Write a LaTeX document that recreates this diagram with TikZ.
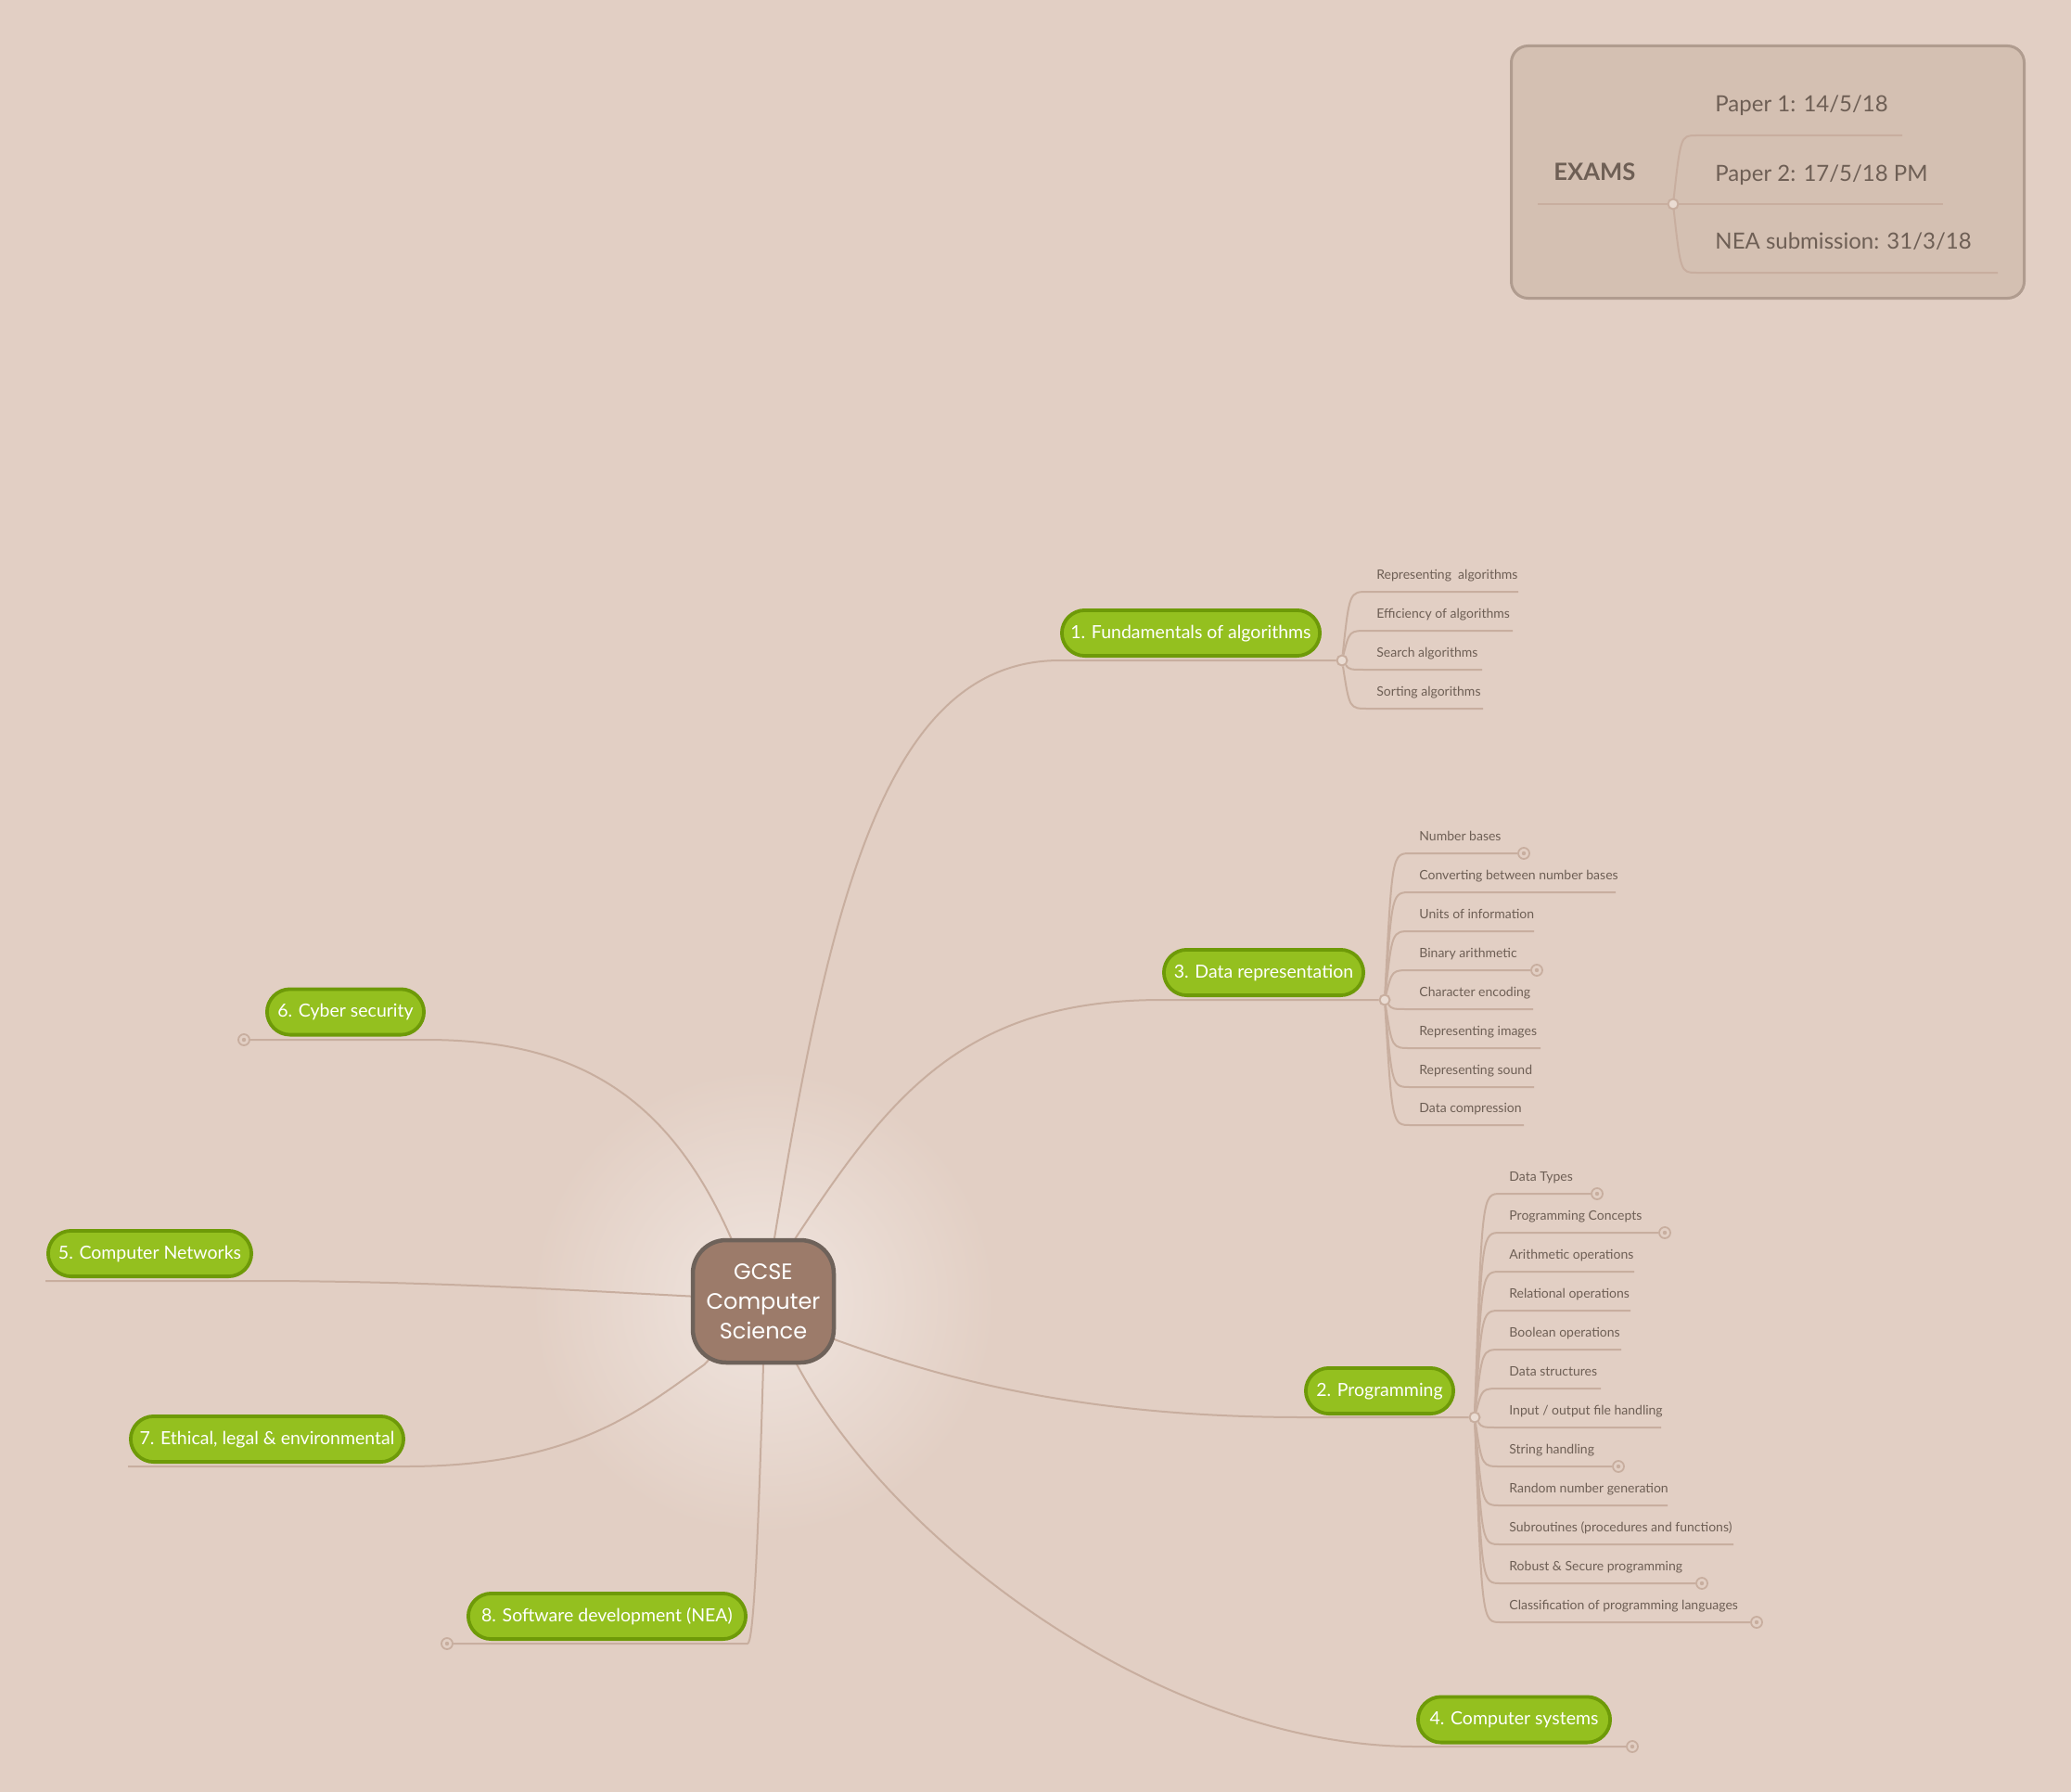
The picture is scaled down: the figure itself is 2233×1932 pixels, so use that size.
\documentclass[tikz,border=0pt]{standalone}
\usepackage{fontspec}
\setmainfont{Lato}
\newfontfamily\popf{Poppins}
\pgfdeclarelayer{bglayer}
\pgfdeclarelayer{lines}
\pgfsetlayers{bglayer,lines,main}
\definecolor{bgc}{HTML}{E2CFC4}
\definecolor{glowc}{HTML}{F0E5DF}
\definecolor{connc}{HTML}{C8AE9F}
\definecolor{txtc}{HTML}{6E5F55}
\definecolor{pillf}{HTML}{94C01F}
\definecolor{pillb}{HTML}{6E9A08}
\definecolor{cfill}{HTML}{9C7B6A}
\definecolor{cbord}{HTML}{6E625A}
\definecolor{boxf}{HTML}{D4C0B2}
\definecolor{boxb}{HTML}{B09C8F}
\definecolor{dotf}{HTML}{EADCD3}
\tikzset{
 conn/.style={draw=connc, line width=1pt},
 pill/.style={rectangle, rounded corners=12.4pt, fill=pillf, draw=pillb, line width=1.9pt,
   minimum height=24.6pt, text=white, font=\fontsize{9.75}{11}\selectfont,
   text height=6.9pt, text depth=1.4pt, inner sep=0pt},
 subtxt/.style={anchor=base west, inner sep=0pt, text=txtc, font=\fontsize{7}{8}\selectfont},
 extxt/.style={anchor=base west, inner sep=0pt, text=txtc, font=\fontsize{12}{14}\selectfont},
 jdot/.style={circle, draw=connc, fill=dotf, line width=1pt, minimum size=5.5pt, inner sep=0pt},
 collapsemk/.style={circle, draw=connc, fill=bgc, line width=0.9pt, minimum size=6pt, inner sep=0pt,
   path picture={\fill[connc] (path picture bounding box.center) circle (1.1pt);}},
}
\newcommand\subbr[6]{%
 \begin{pgfonlayer}{lines}\draw[conn] (#1) .. controls (#2+8,#3) and (#2+8,#3) .. (#2+28,#3) -- (#4,#3);\end{pgfonlayer}
 \node[subtxt] (#5) at (#2+37,#3-14) {#6};}
\newcommand\submk[6]{%
 \node[collapsemk] (#5m) at (#4,#3) {};
 \begin{pgfonlayer}{lines}\draw[conn] (#1) .. controls (#2+8,#3) and (#2+8,#3) .. (#2+28,#3) -- (#5m);\end{pgfonlayer}
 \node[subtxt] (#5) at (#2+37,#3-14) {#6};}
\begin{document}
\begin{tikzpicture}[x=0.5pt,y=-0.5pt]
\useasboundingbox (0,0) rectangle (2233,1932);
% central node
\node[rectangle, rounded corners=18pt, fill=cfill, draw=cbord, line width=2.25pt,
  minimum width=76pt, minimum height=66pt, inner sep=0pt, text=white, align=center,
  font=\popf\fontsize{12}{16}\selectfont] (c) at (823,1403) {GCSE\\Computer\\Science};
\begin{pgfonlayer}{bglayer}
\fill[bgc] (0,0) rectangle (2233,1932);
\shade[inner color=glowc, outer color=bgc] (c.center) circle (125pt);
\end{pgfonlayer}
% topics
\node[pill, minimum width=139.1pt] (t1) at (1284,682.5) {1. Fundamentals of algorithms};
\node[pill, minimum width=107.6pt] (t3) at (1362.5,1048.5) {3. Data representation};
\node[pill, minimum width=79.6pt] (t2) at (1487.5,1499.5) {2. Programming};
\node[pill, minimum width=103.6pt] (t4) at (1632.5,1854) {4. Computer systems};
\node[pill, minimum width=109.6pt] (t5) at (161.5,1351.5) {5. Computer Networks};
\node[pill, minimum width=84.6pt] (t6) at (372.5,1091) {6. Cyber security};
\node[pill, minimum width=147.1pt] (t7) at (288,1551.5) {7. Ethical, legal \& environmental};
\node[pill, minimum width=149.6pt] (t8) at (654.5,1742.5) {8. Software development (NEA)};
% junction dots, markers, free ends
\node[jdot] (d1) at (1447,712) {};
\node[jdot] (d3) at (1493,1078) {};
\node[jdot] (d2) at (1590,1528) {};
\node[collapsemk] (m4) at (1760,1883) {};
\node[collapsemk] (m6) at (263,1121) {};
\node[collapsemk] (m8) at (482,1772) {};
\coordinate (e5) at (49,1381);
\coordinate (e7) at (138,1581);
% main connectors
\begin{pgfonlayer}{lines}
\draw[conn] (c.center) -- (c.80) .. controls (896,961) and (958,712) .. (t1.south west |- d1) -- (d1);
\draw[conn] (c.center) -- (c.63) .. controls (960,1180) and (1040,1078) .. (t3.south west |- d3) -- (d3);
\draw[conn] (c.center) -- (c.332) .. controls (1000,1480) and (1150,1528) .. (t2.south west |- d2) -- (d2);
\draw[conn] (c.center) -- (c.298) .. controls (960,1660) and (1250,1883) .. (t4.south west |- m4) -- (m4);
\draw[conn] (c.center) -- (c.176) .. controls (600,1390) and (450,1381) .. (t5.south east |- e5) -- (e5);
\draw[conn] (c.center) -- (c.117) .. controls (720,1180) and (620,1121) .. (t6.south east |- m6) -- (m6);
\draw[conn] (c.center) -- (c.227) .. controls (690,1520) and (620,1581) .. (t7.south east |- e7) -- (e7);
\draw[conn] (c.center) -- (c.south) .. controls (817,1680) and (812,1772) .. (t8.south east |- m8) -- (m8);
\end{pgfonlayer}
% topic 1 subtopics
\subbr{d1}{1447}{638}{1637}{a1}{Representing\ \ algorithms}
\subbr{d1}{1447}{680}{1631}{a2}{Efficiency of algorithms}
\subbr{d1}{1447}{722}{1598}{a3}{Search algorithms}
\subbr{d1}{1447}{764}{1599}{a4}{Sorting algorithms}
% topic 3 subtopics
\submk{d3}{1493}{920}{1643}{b1}{Number bases}
\subbr{d3}{1493}{962}{1742}{b2}{Converting between number bases}
\subbr{d3}{1493}{1004}{1654}{b3}{Units of information}
\submk{d3}{1493}{1046}{1657}{b4}{Binary arithmetic}
\subbr{d3}{1493}{1088}{1653}{b5}{Character encoding}
\subbr{d3}{1493}{1130}{1661}{b6}{Representing images}
\subbr{d3}{1493}{1172}{1654}{b7}{Representing sound}
\subbr{d3}{1493}{1213}{1643}{b8}{Data compression}
% topic 2 subtopics
\submk{d2}{1590}{1287}{1722}{p1}{Data Types}
\submk{d2}{1590}{1329}{1795}{p2}{Programming Concepts}
\subbr{d2}{1590}{1371}{1762}{p3}{Arithmetic operations}
\subbr{d2}{1590}{1413}{1758}{p4}{Relational operations}
\subbr{d2}{1590}{1455}{1748}{p5}{Boolean operations}
\subbr{d2}{1590}{1497}{1726}{p6}{Data structures}
\subbr{d2}{1590}{1539}{1791}{p7}{Input / output file handling}
\submk{d2}{1590}{1581}{1745}{p8}{String handling}
\subbr{d2}{1590}{1623}{1798}{p9}{Random number generation}
\subbr{d2}{1590}{1665}{1869}{p10}{Subroutines (procedures and functions)}
\submk{d2}{1590}{1707}{1835}{p11}{Robust \& Secure programming}
\submk{d2}{1590}{1749}{1894}{p12}{Classification of programming languages}
% exams box
\node[draw=boxb, fill=boxf, line width=1.5pt, rounded corners=9pt, minimum width=276.5pt,
  minimum height=136pt, inner sep=0pt] (xb) at (1906,185.5) {};
\node[anchor=base west, inner sep=0pt, text=txtc, font=\bfseries\fontsize{12.8}{15}\selectfont] (xl) at (1675,194) {EXAMS};
\coordinate (x0) at (1658,220);
\draw[conn] (x0) -- (1804,220);
\draw[conn] (1804,220) .. controls (1812,146) and (1812,146) .. (1829,146) -- (2051,146);
\draw[conn] (1804,220) -- (2095,220);
\draw[conn] (1804,220) .. controls (1812,294) and (1812,294) .. (1829,294) -- (2154,294);
\node[jdot] (xd) at (1804,220) {};
\node[extxt] (x1) at (1849,121) {Paper 1: 14/5/18};
\node[extxt] (x2) at (1849,195) {Paper 2: 17/5/18 PM};
\node[extxt] (x3) at (1849,268) {NEA submission: 31/3/18};
\end{tikzpicture}
\end{document}
